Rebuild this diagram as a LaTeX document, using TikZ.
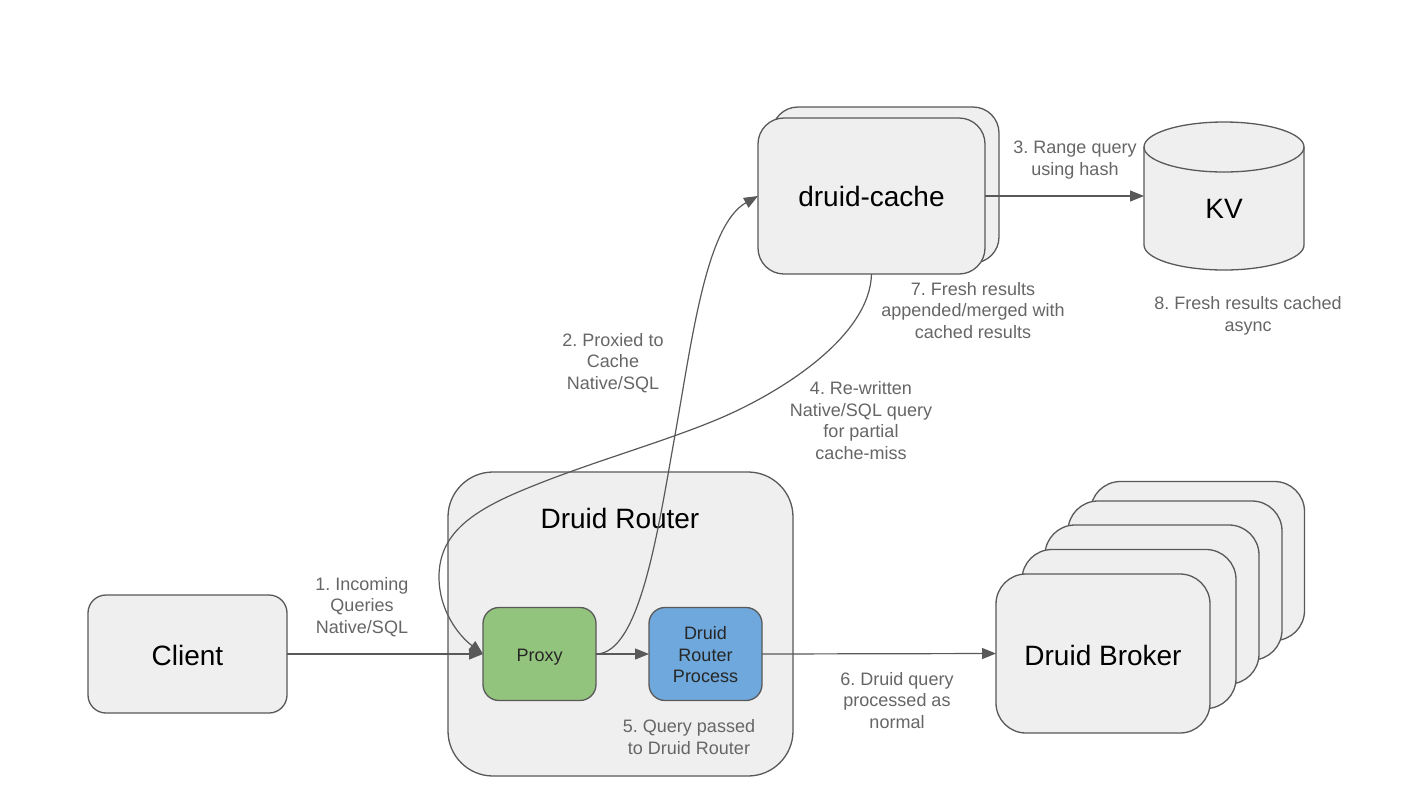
\documentclass[tikz,border=0pt]{standalone}
\usepackage{fontspec}
\setmainfont{Liberation Sans}
\usetikzlibrary{arrows.meta}
\definecolor{boxfill}{HTML}{EFEFEF}
\definecolor{edge}{HTML}{595959}
\definecolor{labelgray}{HTML}{666666}
\definecolor{greenfill}{HTML}{93C47D}
\definecolor{bluefill}{HTML}{6FA8DC}
\tikzset{
  box/.style={draw=edge,fill=boxfill,line width=1.3pt,inner sep=0pt,outer sep=0pt,align=center,text=black,font=\fontsize{28}{32}\selectfont},
  smallbox/.style={box,rounded corners=16pt,minimum width=113pt,minimum height=93pt,font=\fontsize{18}{21.5}\selectfont,text=black!85},
  broker/.style={box,rounded corners=30pt,minimum width=214pt,minimum height=159pt},
  cachebox/.style={box,rounded corners=26pt,minimum width=227pt,minimum height=156pt},
  steplabel/.style={text=labelgray,align=center,inner sep=0pt,font=\frenchspacing\fontsize{18}{21.5}\selectfont},
  bigtext/.style={inner sep=0pt,text=black,font=\fontsize{28}{32}\selectfont},
  smalltext/.style={inner sep=0pt,align=center,text=black!85,font=\fontsize{18}{21.5}\selectfont},
  link/.style={draw=edge,line width=1.2pt,-{Triangle[length=14pt,width=11pt]}}
}
\begin{document}
\begin{tikzpicture}[x=1pt,y=-1pt]
\path[use as bounding box,fill=white] (0,0) rectangle (1406,804);
\node[box,rounded corners=18pt,minimum width=199pt,minimum height=118pt] (client) at (187.5,654) {};
\node[bigtext] (clienttext) at (187.5,655) {Client};
\node[box,rounded corners=45pt,minimum width=345pt,minimum height=304pt] (router) at (620.5,624) {};
\node[bigtext] (routertitle) at (620,518) {Druid Router};
\node[smallbox,fill=greenfill] (proxy) at (539.5,654) {};
\node[smalltext] (proxytext) at (539.5,657) {Proxy};
\node[smallbox,fill=bluefill] (process) at (705.5,654) {};
\node[smalltext] (processtext) at (705.5,655) {Druid\\Router\\Process};
\node[cachebox] (cacheback) at (885.5,185) {};
\node[cachebox] (cache) at (871.5,196) {druid-cache};
\node[inner sep=0pt,outer sep=0pt,minimum width=160pt,minimum height=148pt] (kv) at (1224,196) {};
\path[draw=edge,fill=boxfill,line width=1.3pt] (1144,147) -- (1144,245) arc[x radius=80pt,y radius=25pt,start angle=180,end angle=360] -- (1304,147) arc[x radius=80pt,y radius=25pt,start angle=0,end angle=180] -- cycle;
\path[draw=edge,line width=1.3pt] (1144,147) arc[x radius=80pt,y radius=25pt,start angle=180,end angle=360];
\node[bigtext] (kvtext) at (1224,209) {KV};
\node[broker] (brokerd) at (1197.5,561) {};
\node[broker] (brokerc) at (1175,580.5) {};
\node[broker] (brokerb) at (1152,604.5) {};
\node[broker] (brokera) at (1129,629) {};
\node[broker] (broker) at (1103,653.5) {};
\node[bigtext] (brokertext) at (1103,655) {Druid Broker};
\draw[link] (client.east) -- (proxy.west);
\draw[link] (proxy.east) -- (process.west);
\draw[link] (process.east) -- (broker.west);
\draw[link] (cache.east) -- (kv.west);
\draw[link] (proxy.east) .. controls (640,654) and (658,530) .. (675,435) .. controls (692,340) and (706,225) .. (cache.west);
\draw[link] (cache.south) .. controls (870,335) and (785,390) .. (723,417) .. controls (665,442) and (590,462) .. (523,490) .. controls (470,512) and (439,535) .. (439,577) .. controls (439,610) and (458,635) .. (proxy.west);
\node[steplabel] (l1) at (362,607) {1. Incoming\\Queries\\Native/SQL};
\node[steplabel] (l2) at (613,363) {2. Proxied to\\Cache\\Native/SQL};
\node[steplabel] (l3) at (1075,160) {3. Range query\\using hash};
\node[steplabel] (l4) at (861,420.5) {4. Re-written\\Native/SQL query\\for partial\\cache-miss};
\node[steplabel] (l5) at (689,737) {5. Query passed\\to Druid Router};
\node[steplabel] (l6) at (897,700.5) {6. Druid query\\processed as\\normal};
\node[steplabel] (l7) at (973,310.5) {7. Fresh results\\appended/merged with\\cached results};
\node[steplabel] (l8) at (1248,316) {8. Fresh results cached\\async};
\end{tikzpicture}
\end{document}
